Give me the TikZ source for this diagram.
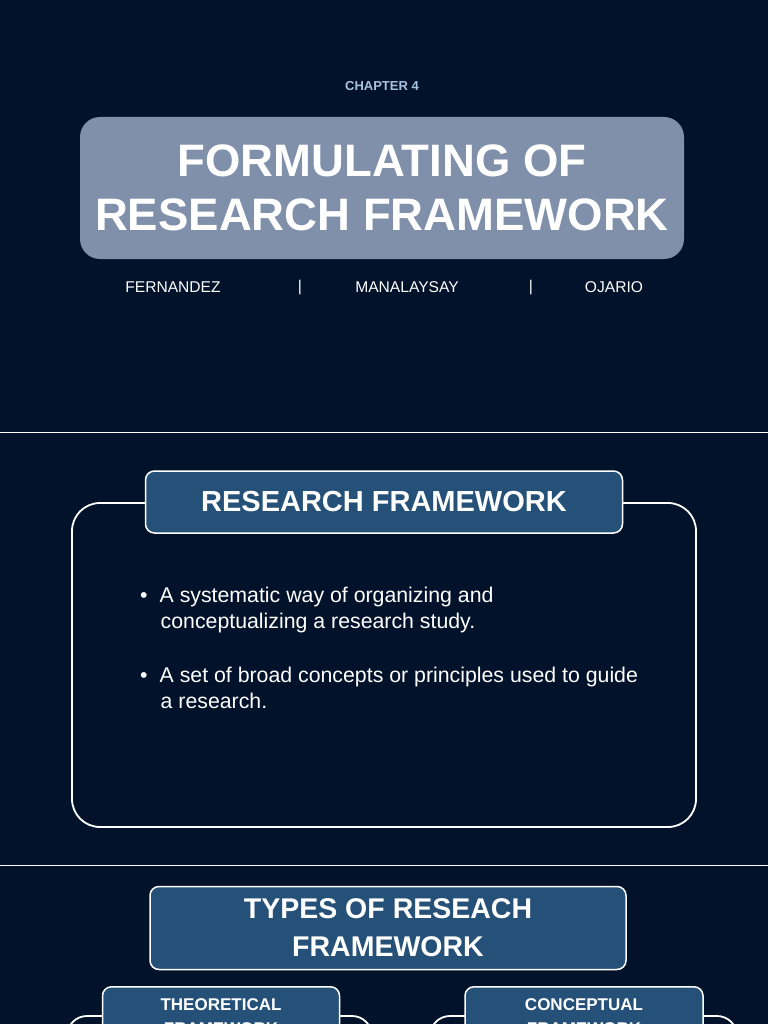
\documentclass[tikz,border=0pt]{standalone}
\usepackage{fontspec}
\setmainfont{Liberation Sans}
\begin{document}
\begin{tikzpicture}[x=1pt,y=-1pt,
  hd/.style={draw=white,line width=1.5pt,fill=hdblue,rounded corners=9pt,text=white,font=\bfseries,align=center,inner sep=0pt},
  outer/.style={draw=white,line width=1.8pt,rounded corners=28pt},
  sep/.style={white,line width=0.8pt}]
\definecolor{bg}{HTML}{02122A}
\definecolor{hdblue}{HTML}{255178}
\definecolor{titlebox}{HTML}{8090AA}
\definecolor{chap}{HTML}{A9C2E0}
\clip (0,0) rectangle (768,1024);
\fill[bg] (0,0) rectangle (768,1024);
\useasboundingbox (0,0) rectangle (768,1024);
% slide 1
\node[text=chap,font=\bfseries\fontsize{13}{15}\selectfont] (chap) at (382,86) {CHAPTER 4};
\node[fill=titlebox,rounded corners=20pt,minimum width=604pt,minimum height=142pt,text=white,font=\bfseries\fontsize{45.5}{54}\selectfont,align=center,inner sep=0pt] (title) at (382,188) {FORMULATING OF\\RESEARCH FRAMEWORK};
\node[text=white,font=\fontsize{15.6}{18}\selectfont] (n1) at (173,287) {FERNANDEZ};
\node[text=white,font=\fontsize{15.6}{18}\selectfont] (b1) at (300,287) {|};
\node[text=white,font=\fontsize{15.6}{18}\selectfont] (n2) at (407,287) {MANALAYSAY};
\node[text=white,font=\fontsize{15.6}{18}\selectfont] (b2) at (531,287) {|};
\node[text=white,font=\fontsize{15.6}{18}\selectfont] (n3) at (614,287) {OJARIO};
\draw[sep] (0,432.5) -- (768,432.5);
% slide 2
\draw[outer] (72,503) rectangle (696,827);
\node[hd,minimum width=477pt,minimum height=62pt,font=\bfseries\fontsize{29}{32}\selectfont] (rf) at (384,502) {RESEARCH FRAMEWORK};
\node[text=white,font=\fontsize{21.3}{26}\selectfont,anchor=north west,align=left,inner sep=0pt] (bul1) at (140,587) {•\hspace{12pt}A systematic way of organizing and\\\hspace{20.5pt}conceptualizing a research study.};
\node[text=white,font=\fontsize{21.3}{26}\selectfont,anchor=north west,align=left,inner sep=0pt] (bul2) at (140,667) {•\hspace{12pt}A set of broad concepts or principles used to guide\\\hspace{20.5pt}a research.};
\draw[sep] (0,865.5) -- (768,865.5);
% slide 3
\node[hd,minimum width=476pt,minimum height=83pt,font=\bfseries\fontsize{28.5}{38}\selectfont] (types) at (388,928) {TYPES OF RESEACH\\FRAMEWORK};
\draw[outer,rounded corners=20pt] (67,1016) rectangle (372,1100);
\draw[outer,rounded corners=20pt] (430,1016) rectangle (737,1100);
\node[hd,minimum width=237pt,minimum height=60pt,font=\bfseries\fontsize{17}{24}\selectfont,anchor=north] (th) at (221,986) {THEORETICAL\\FRAMEWORK};
\node[hd,minimum width=238pt,minimum height=60pt,font=\bfseries\fontsize{17}{24}\selectfont,anchor=north] (co) at (584,986) {CONCEPTUAL\\FRAMEWORK};
\end{tikzpicture}
\end{document}
